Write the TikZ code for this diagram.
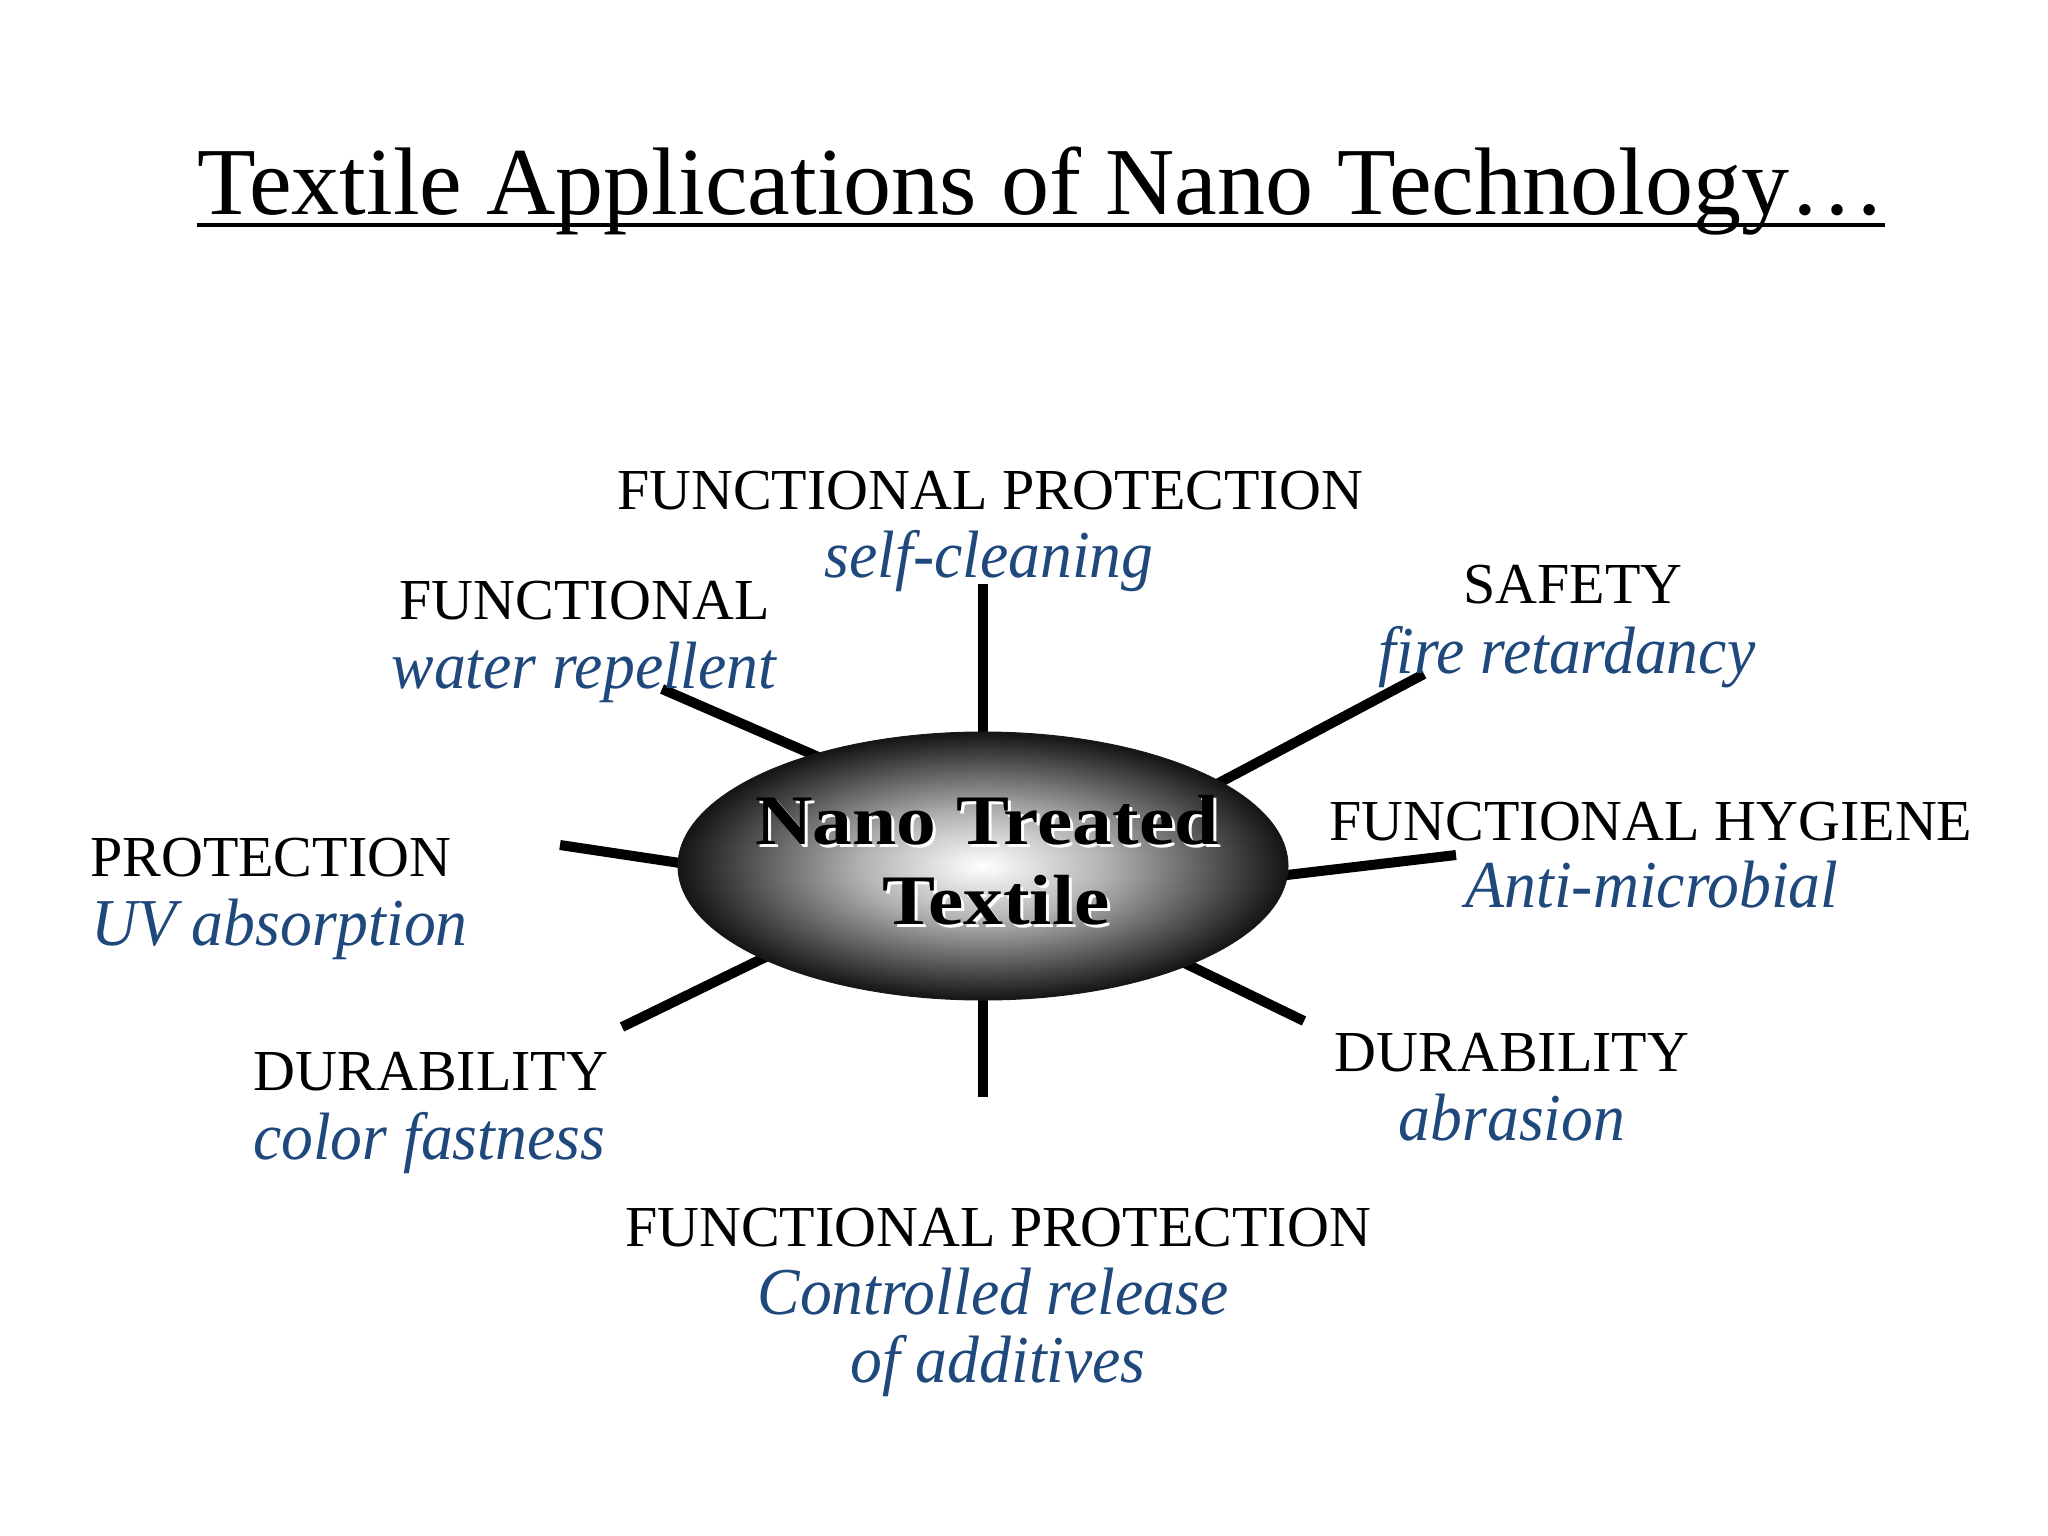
\documentclass[tikz,border=0pt]{standalone}
\usepackage{fontspec}
\setmainfont{Liberation Serif}
\usetikzlibrary{shapes.geometric}
\definecolor{lblue}{HTML}{1F497D}
\pgfdeclareradialshading{nanoball}{\pgfpoint{0bp}{0bp}}{color(0bp)=(white); color(10bp)=(black!30); color(25bp)=(black!92); color(50bp)=(black!92)}
\newcommand{\ctrtext}[1]{\scalebox{1.12}[1]{#1}}
\newcommand{\subline}[1]{\scalebox{0.95}[1]{#1}}
\begin{document}
\begin{tikzpicture}[x=1pt,y=-1pt,
  captxt/.style={anchor=base,inner sep=0pt,font=\fontsize{58}{58}\selectfont},
  subtxt/.style={anchor=base,inner sep=0pt,text=lblue,font=\fontsize{67}{67}\selectfont\itshape},
  spoke/.style={line width=10pt},
  centertxt/.style={anchor=base,inner sep=0pt,font=\fontsize{71}{71}\selectfont\bfseries}]
\useasboundingbox (0,0) rectangle (2048,1536);
\fill[white] (0,0) rectangle (2048,1536);

% title
\node[anchor=base,inner sep=0pt,font=\fontsize{96}{96}\selectfont] (title) at (1041,214) {Textile Applications of Nano Technology\ldots};
\draw[line width=4pt] ([yshift=-11pt]title.base west) -- ([yshift=-11pt]title.base east);

% spoke end points
\coordinate (tOut) at (983,584);   \coordinate (tIn) at (983,760);
\coordinate (bOut) at (983,1097);  \coordinate (bIn) at (983,980);
\coordinate (ulOut) at (662,689);  \coordinate (ulIn) at (830,762);
\coordinate (lOut) at (560,845);   \coordinate (lIn) at (700,866);
\coordinate (llOut) at (622,1027); \coordinate (llIn) at (780,950);
\coordinate (lrOut) at (1304,1021);\coordinate (lrIn) at (1170,956);
\coordinate (rOut) at (1456,855);  \coordinate (rIn) at (1270,877);
\coordinate (urOut) at (1424,674); \coordinate (urIn) at (1200,793);

\foreach \s in {t,b,ul,l,ll,lr,r,ur} {\draw[spoke] (\s Out) -- (\s In);}

% central ellipse
\node[ellipse, minimum width=610pt, minimum height=268pt, shading=nanoball, draw=black!90, line width=1pt] (ell) at (983,866) {};
\node[centertxt,text=white] (nanoSh) at (990,847) {\ctrtext{Nano Treated}};
\node[centertxt,text=white] (textileSh) at (999,927) {\ctrtext{Textile}};
\node[centertxt] (nano) at (987,844) {\ctrtext{Nano Treated}};
\node[centertxt] (textile) at (996,924) {\ctrtext{Textile}};

% labels
\node[captxt] (fpTop) at (990,509) {FUNCTIONAL PROTECTION};
\node[subtxt] (selfc) at (989,577) {\subline{self-cleaning}};

\node[captxt] (func) at (585,619) {FUNCTIONAL};
\node[subtxt] (water) at (584,688) {\subline{water repellent}};

\node[captxt] (safety) at (1573,603) {SAFETY};
\node[subtxt] (fire) at (1567,673) {\subline{fire retardancy}};

\node[captxt] (hyg) at (1651,840) {FUNCTIONAL HYGIENE};
\node[subtxt] (anti) at (1652,907) {\subline{Anti-microbial}};

\node[captxt,anchor=base west] (prot) at (90,876) {PROTECTION};
\node[subtxt,anchor=base west] (uv) at (91,945) {\subline{UV absorption}};

\node[captxt] (durL) at (431,1090) {DURABILITY};
\node[subtxt] (color) at (429,1159) {\subline{color fastness}};

\node[captxt] (durR) at (1512,1071) {DURABILITY};
\node[subtxt] (abr) at (1512,1140) {\subline{abrasion}};

\node[captxt] (fpBot) at (998,1246) {FUNCTIONAL PROTECTION};
\node[subtxt] (ctrl) at (993,1314) {\subline{Controlled release}};
\node[subtxt] (addit) at (998,1382) {\subline{of additives}};
\end{tikzpicture}
\end{document}
